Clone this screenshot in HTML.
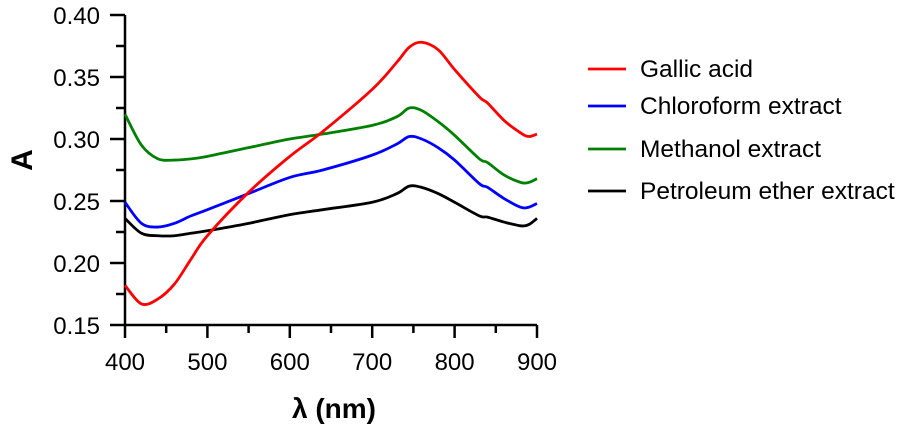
<!DOCTYPE html>
<html><head><meta charset="utf-8"><style>
html,body{margin:0;padding:0;background:#fff;}
svg{display:block;font-family:"Liberation Sans",Arial,sans-serif;}
</style></head><body>
<svg id="chart" width="898" height="428" viewBox="0 0 898 428"></svg>
<script>
const wavelengths=[400,420,440,460,480,500,550,600,640,700,730,745,760,780,800,830,840,860,880,890,900];
const gallic=[0.182,0.167,0.171,0.183,0.203,0.222,0.257,0.286,0.306,0.340,0.362,0.374,0.378,0.372,0.356,0.334,0.329,0.315,0.305,0.302,0.304];
const chloroform=[0.249,0.232,0.229,0.232,0.238,0.243,0.256,0.269,0.275,0.287,0.296,0.302,0.300,0.293,0.283,0.264,0.261,0.252,0.245,0.245,0.248];
const methanol=[0.320,0.295,0.284,0.283,0.284,0.286,0.293,0.300,0.304,0.311,0.318,0.325,0.323,0.314,0.303,0.284,0.281,0.271,0.265,0.265,0.268];
const petroleum=[0.236,0.224,0.222,0.222,0.224,0.226,0.232,0.239,0.243,0.249,0.256,0.262,0.261,0.256,0.249,0.238,0.237,0.233,0.230,0.231,0.236];
const seriesNames=["Gallic acid","Chloroform extract","Methanol extract","Petroleum ether extract"];
const xTicks=[400,500,600,700,800,900];
const yTicks=[0.15,0.20,0.25,0.30,0.35,0.40];

const NS="http://www.w3.org/2000/svg";
const svg=document.getElementById('chart');
const X0=125,X1=537,Y0=325,Y1=15;
function xs(v){return X0+(v-400)/500*(X1-X0);}
function ys(v){return Y0-(v-0.15)/0.25*(Y0-Y1);}
function mk(t,a,p){const e=document.createElementNS(NS,t);for(const k in a)e.setAttribute(k,a[k]);(p||svg).appendChild(e);return e;}

const axes=mk('g',{});


mk('line',{x1:X0,y1:Y1,x2:X0,y2:Y0,stroke:'#000','stroke-width':2.5},axes);
mk('line',{x1:X0,y1:Y0,x2:X1,y2:Y0,stroke:'#000','stroke-width':2.5},axes);
for(let i=0;i<=10;i++){const v=400+i*50;mk('line',{x1:xs(v),y1:Y0,x2:xs(v),y2:Y0+(i%2?8:13),stroke:'#000','stroke-width':2.5},axes);}
for(let i=0;i<=10;i++){const v=0.15+i*0.025;mk('line',{x1:X0-(i%2?9:15),y1:ys(v),x2:X0,y2:ys(v),stroke:'#000','stroke-width':2.5},axes);}
xTicks.forEach(v=>{const t=mk('text',{x:xs(v),y:370,'text-anchor':'middle','font-size':24},axes);t.textContent=v;

});
yTicks.forEach(v=>{const t=mk('text',{x:100,y:ys(v)+9,'text-anchor':'end','font-size':24},axes);t.textContent=v.toFixed(2);

});
const yt=mk('text',{x:0,y:0,'font-size':30,'font-weight':'bold','text-anchor':'middle',transform:'translate(32,160) rotate(-90)'});
yt.textContent='A';


const xt=mk('text',{x:334,y:418,'font-size':28,'font-weight':'bold','text-anchor':'middle'});
xt.textContent='λ (nm)';



function smoothPath(xsA,ysA){
 const p=xsA.map((x,i)=>[xs(x),ys(ysA[i])]);
 let d='M'+p[0][0]+','+p[0][1];
 for(let i=0;i<p.length-1;i++){
  const p0=p[Math.max(0,i-1)],p1=p[i],p2=p[i+1],p3=p[Math.min(p.length-1,i+2)];
  const c1=[p1[0]+(p2[0]-p0[0])/6,p1[1]+(p2[1]-p0[1])/6];
  const c2=[p2[0]-(p3[0]-p1[0])/6,p2[1]-(p3[1]-p1[1])/6];
  d+=' C'+c1[0]+','+c1[1]+' '+c2[0]+','+c2[1]+' '+p2[0]+','+p2[1];
 }
 return d;
}
const series=[[petroleum,'#000','petroleum-line'],[chloroform,'#0000ff','chloroform-line'],[methanol,'#008000','methanol-line'],[gallic,'#ff0000','gallic-line']];
series.forEach(s=>{const e=mk('path',{d:smoothPath(wavelengths,s[0]),fill:'none',stroke:s[1],'stroke-width':2.8});

});

const legColors=['#ff0000','#0000ff','#008000','#000'];
const legY=[69,106,149,191];
seriesNames.forEach((n,i)=>{
 const g=mk('g',{});
 
 
 mk('line',{x1:588,y1:legY[i],x2:626,y2:legY[i],stroke:legColors[i],'stroke-width':2.8},g);
 const t=mk('text',{x:640,y:legY[i]+8,'font-size':24.5},g);t.textContent=n;
});
</script>
</body></html>
